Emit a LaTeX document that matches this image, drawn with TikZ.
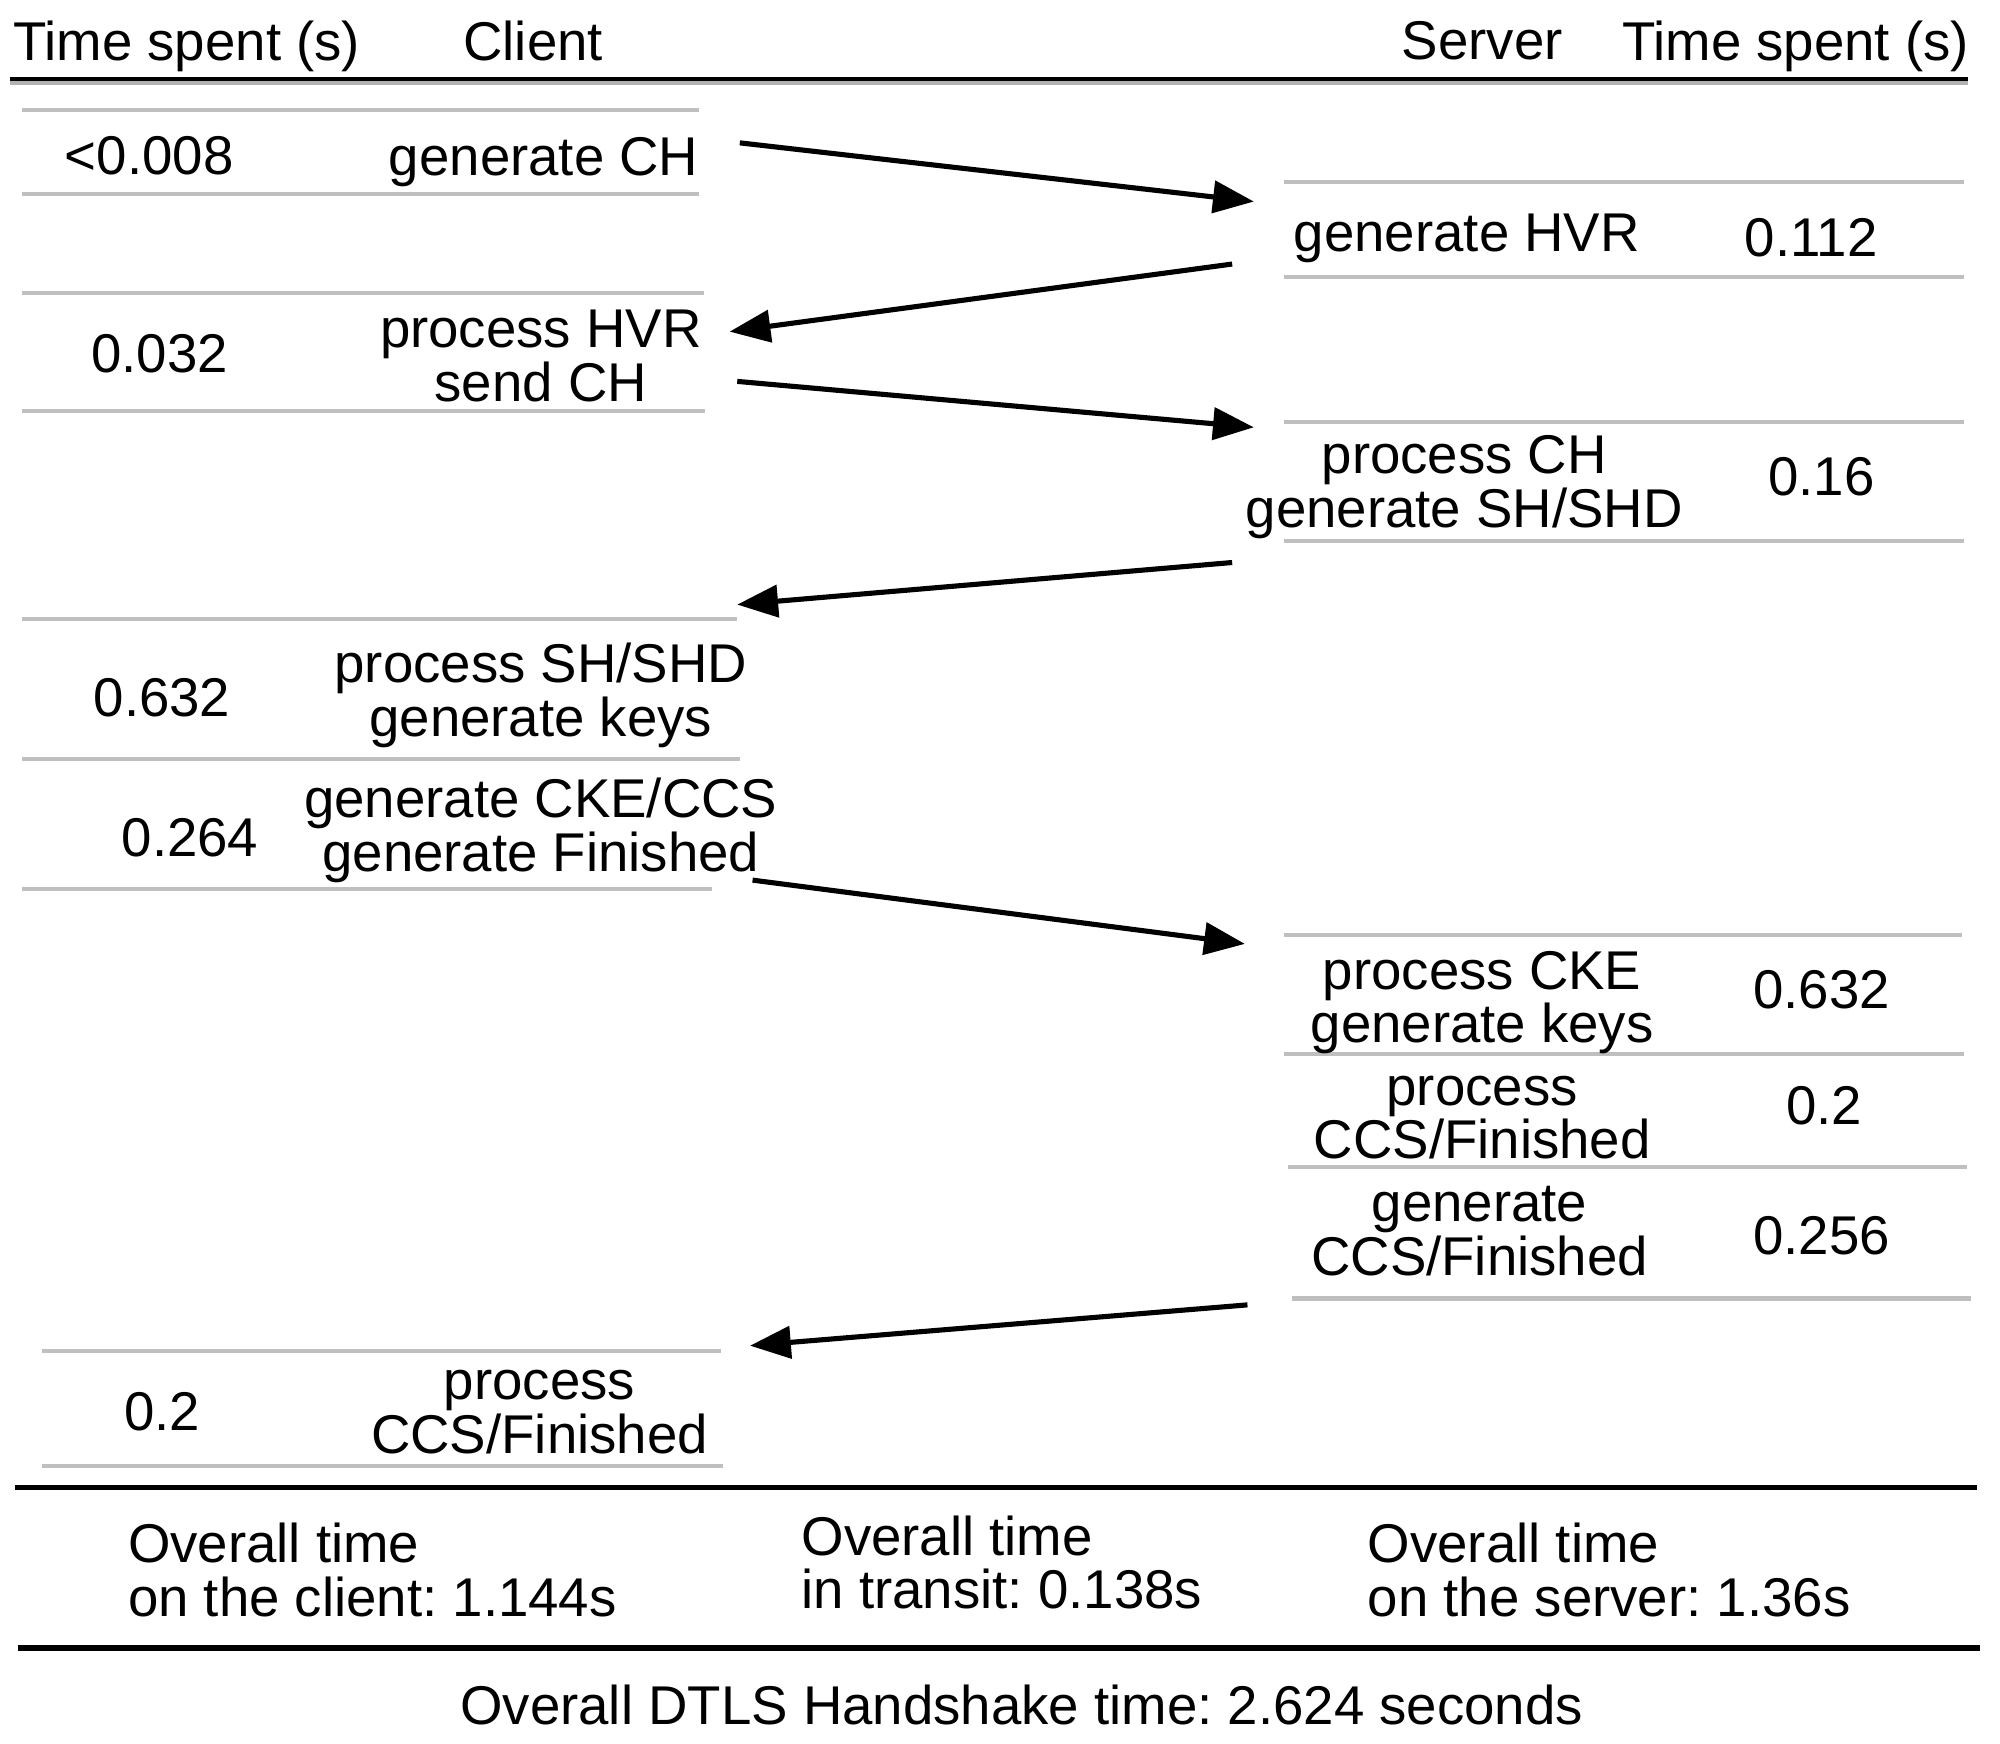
\documentclass[tikz,border=0pt]{standalone}
\usepackage{fontspec}
\setmainfont{Liberation Sans}
\frenchspacing
\usetikzlibrary{arrows.meta}
\begin{document}
\begin{tikzpicture}[x=0.5pt,y=-0.5pt,
  txt/.style={inner sep=0pt,align=center,font=\fontsize{21.4}{21}\selectfont},
  ltxt/.style={inner sep=0pt,align=left,font=\fontsize{21.4}{21}\selectfont},
  sep/.style={draw=black!25,line width=1.6pt},
  rule/.style={draw=black,line width=2pt},
  msg/.style={draw=black,line width=2pt,-{Triangle[length=16pt,width=12.5pt]}}]
\useasboundingbox (0,0) rectangle (1568,1367);
% header
\node[txt,anchor=west] (hl) at (10,36) {Time spent (s)};
\node[txt] (hc) at (418,32) {Client};
\node[txt] (hs) at (1162,32) {Server};
\node[txt,anchor=east] (hr) at (1544,36) {Time spent (s)};
\draw[draw=black!30,line width=1.4pt] (8,65) -- (1543,65);
\draw[draw=black,line width=1.6pt] (8,62) -- (1543,62);
% client separators
\draw[sep] (17,86) -- (548,86);
\draw[sep] (17,152) -- (548,152);
\draw[sep] (17,230) -- (552,230);
\draw[sep] (17,322) -- (553,322);
\draw[sep] (17,485) -- (578,485);
\draw[sep] (17,595) -- (580,595);
\draw[sep] (17,697) -- (558,697);
\draw[sep] (33,1059) -- (565,1059);
\draw[sep] (33,1149) -- (567,1149);
% server separators
\draw[sep] (1007,143) -- (1540,143);
\draw[sep] (1007,217) -- (1540,217);
\draw[sep] (1007,331) -- (1540,331);
\draw[sep] (1007,424) -- (1540,424);
\draw[sep] (1007,733) -- (1538,733);
\draw[sep] (1007,826) -- (1540,826);
\draw[sep] (1010,915) -- (1542,915);
\draw[sep] (1013,1018) -- (1545,1018);
% client rows
\node[txt] (t1) at (117,122) {<0.008};
\node[txt,anchor=east] (c1) at (548,127) {generate CH};
\node[txt] (t2) at (125,277) {0.032};
\node[txt] (c2) at (424,279) {process HVR\\send CH};
\node[txt] (t3) at (127,547) {0.632};
\node[txt] (c3) at (424,545) {process SH/SHD\\generate keys};
\node[txt] (t4) at (149,657) {0.264};
\node[txt] (c4) at (424,651) {generate CKE/CCS\\generate Finished};
\node[txt] (t5) at (127,1107) {0.2};
\node[txt] (c5) at (423,1107) {process\\CCS/Finished};
% server rows
\node[txt] (s1) at (1150,187) {generate HVR};
\node[txt] (u1) at (1420,186) {0.112};
\node[txt] (s2) at (1148,382) {process CH\\generate SH/SHD};
\node[txt] (u2) at (1428,374) {0.16};
\node[txt] (s3) at (1162,786) {process CKE\\generate keys};
\node[txt] (u3) at (1428,776) {0.632};
\node[txt] (s4) at (1162,876) {process\\CCS/Finished};
\node[txt] (u4) at (1430,867) {0.2};
\node[txt] (s5) at (1160,965) {generate\\CCS/Finished};
\node[txt] (u5) at (1428,969) {0.256};
% message endpoints
\coordinate (a1) at (580,112); \coordinate (b1) at (983,158);
\coordinate (a2) at (966,207); \coordinate (b2) at (572,260);
\coordinate (a3) at (578,299); \coordinate (b3) at (983,335);
\coordinate (a4) at (966,441); \coordinate (b4) at (578,474);
\coordinate (a5) at (590,690); \coordinate (b5) at (976,740);
\coordinate (a6) at (978,1023); \coordinate (b6) at (588,1055);
\draw[msg] (a1) -- (b1);
\draw[msg] (a2) -- (b2);
\draw[msg] (a3) -- (b3);
\draw[msg] (a4) -- (b4);
\draw[msg] (a5) -- (b5);
\draw[msg] (a6) -- (b6);
% bottom
\draw[rule] (12,1166) -- (1550,1166);
\node[ltxt,anchor=west] (o1) at (100,1231) {Overall time\\on the client: 1.144s};
\node[ltxt,anchor=west] (o2) at (628,1225) {Overall time\\in transit: 0.138s};
\node[ltxt,anchor=west] (o3) at (1072,1231) {Overall time\\on the server: 1.36s};
\draw[rule] (14,1292) -- (1552,1292);
\node[txt] (tot) at (801,1337) {Overall DTLS Handshake time: 2.624 seconds};
\end{tikzpicture}
\end{document}
